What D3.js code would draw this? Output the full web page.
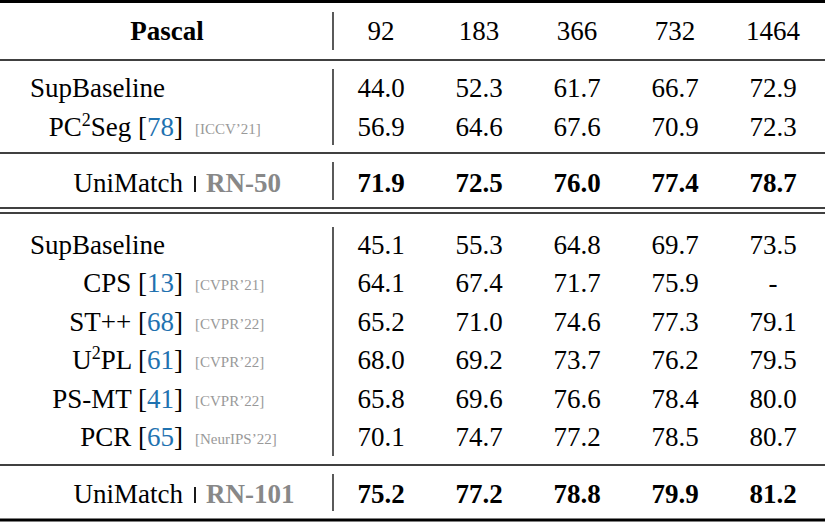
<!DOCTYPE html><html><head><meta charset="utf-8">
<script src="https://cdn.jsdelivr.net/npm/d3@7"></script>
<style>body{margin:0;background:#fff}</style></head><body>
<svg id="c" width="825" height="522" font-family="'Liberation Serif','Times New Roman','DejaVu Serif',serif"></svg>
<script>
const columns = ["92","183","366","732","1464"];
const group1 = [
 {name:"SupBaseline", sup:null, rest:null, ref:null, venue:null, vals:["44.0","52.3","61.7","66.7","72.9"]},
 {name:"PC", sup:"2", rest:"Seg", ref:"78", venue:"[ICCV’21]", vals:["56.9","64.6","67.6","70.9","72.3"]}
];
const ours1 = {backbone:"RN-50", vals:["71.9","72.5","76.0","77.4","78.7"]};
const group2 = [
 {name:"SupBaseline", sup:null, rest:null, ref:null, venue:null, vals:["45.1","55.3","64.8","69.7","73.5"]},
 {name:"CPS", sup:null, rest:null, ref:"13", venue:"[CVPR’21]", vals:["64.1","67.4","71.7","75.9","-"]},
 {name:"ST++", sup:null, rest:null, ref:"68", venue:"[CVPR’22]", vals:["65.2","71.0","74.6","77.3","79.1"]},
 {name:"U", sup:"2", rest:"PL", ref:"61", venue:"[CVPR’22]", vals:["68.0","69.2","73.7","76.2","79.5"]},
 {name:"PS-MT", sup:null, rest:null, ref:"41", venue:"[CVPR’22]", vals:["65.8","69.6","76.6","78.4","80.0"]},
 {name:"PCR", sup:null, rest:null, ref:"65", venue:"[NeurIPS’22]", vals:["70.1","74.7","77.2","78.5","80.7"]}
];
const ours2 = {backbone:"RN-101", vals:["75.2","77.2","78.8","79.9","81.2"]};

const svg = d3.select("#c");
const x = d3.scalePoint().domain(columns).range([381,773]);
const FS = 27;
function hline(y,w){svg.append("line").attr("x1",0).attr("x2",825).attr("y1",y).attr("y2",y).attr("stroke","#000").attr("stroke-width",w);}
function vline(y1,y2){svg.append("line").attr("x1",333).attr("x2",333).attr("y1",y1).attr("y2",y2).attr("stroke","#000").attr("stroke-width",1.3);}
function vals(v,y,bold){
  svg.selectAll(null).data(v).enter().append("text").attr("x",(d,i)=>x(columns[i])).attr("y",y)
   .attr("text-anchor","middle").attr("font-size",FS).attr("font-weight",bold?"bold":"normal").text(d=>d);
}
function row(r,y){
  if(!r.ref){ svg.append("text").attr("x",30).attr("y",y).attr("font-size",FS).text(r.name); }
  else{
    const t = svg.append("text").attr("x",183).attr("y",y).attr("text-anchor","end").attr("font-size",FS);
    t.append("tspan").text(r.name);
    if(r.sup){ t.append("tspan").attr("font-size",18).attr("dy",-10).text(r.sup);
      t.append("tspan").attr("dy",10).text(r.rest); }
    t.append("tspan").text(" [");
    t.append("tspan").attr("fill","#1f72b0").text(r.ref);
    t.append("tspan").text("]");
    svg.append("text").attr("x",195).attr("y",y-2).attr("font-size",15).attr("fill","#999").text(r.venue);
  }
  vals(r.vals,y,false);
}
function ours(o,y){
  svg.append("text").attr("x",183).attr("y",y).attr("text-anchor","end").attr("font-size",FS).text("UniMatch");
  svg.append("line").attr("x1",195).attr("x2",195).attr("y1",y-16).attr("y2",y).attr("stroke","#000").attr("stroke-width",1.8);
  svg.append("text").attr("x",206).attr("y",y).attr("font-size",FS).attr("font-weight","bold").attr("fill","#888").text(o.backbone);
  vals(o.vals,y,true);
}
hline(1.5,3);
svg.append("text").attr("x",167).attr("y",40).attr("text-anchor","middle").attr("font-size",FS).attr("font-weight","bold").text("Pascal");
svg.selectAll(null).data(columns).enter().append("text").attr("x",d=>x(d)).attr("y",40).attr("text-anchor","middle").attr("font-size",FS).text(d=>d);
vline(12,50);
hline(60,1.3);
const y1=[97,136];
group1.forEach((r,i)=>row(r,y1[i]));
vline(69,145);
hline(153,1.3);
ours(ours1,192); vline(162,200);
hline(208,1.3); hline(213,1.3);
group2.forEach((r,i)=>row(r,254+i*38.4));
vline(227,456);
hline(465,1.3);
ours(ours2,503); vline(474,511);
hline(520,3);
</script></body></html>
